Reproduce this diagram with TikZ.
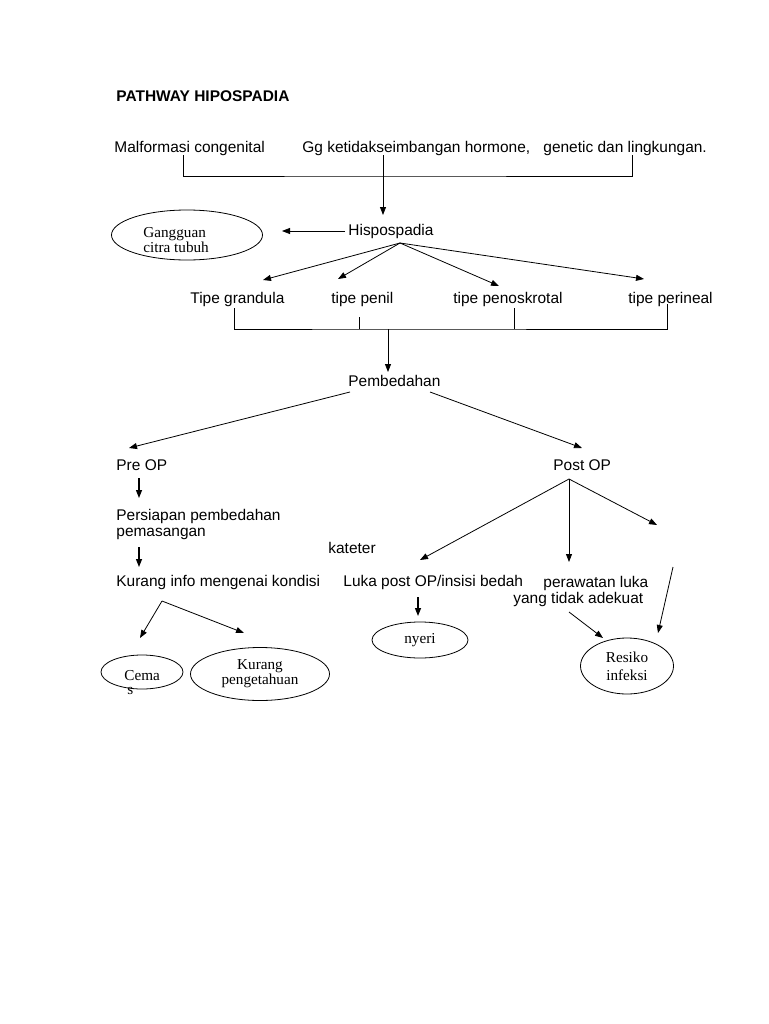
\documentclass[tikz,border=0pt]{standalone}
\usepackage{fontspec}
\setmainfont{Liberation Serif}
\setsansfont{Liberation Sans}
\usetikzlibrary{arrows.meta,shapes.geometric}
\newcommand{\txs}{\fontsize{11.6}{12}\selectfont}
\newcommand{\txr}{\fontsize{11.4}{11.2}\selectfont}

\begin{document}
\begin{tikzpicture}[x=0.75pt,y=-0.75pt,line width=0.6pt,
  lbl/.style={anchor=base west,inner sep=0pt,font=\sffamily\txs},
  slbl/.style={anchor=base west,inner sep=0pt,font=\rmfamily\txr},
  oval/.style={draw,ellipse,inner sep=0pt,align=center,font=\rmfamily\txr},
  arr/.style={-{Triangle[length=6pt,width=4.5pt]}},
  thk/.style={arr,line width=1pt}]
  \useasboundingbox (0,0) rectangle (768,1024);
  \node[lbl,font=\sffamily\bfseries\txs] (title) at (116,101) {PATHWAY HIPOSPADIA};
  \node[lbl] (malf) at (114,152) {Malformasi congenital};
  \node[lbl] (gg)   at (302,152) {Gg ketidakseimbangan hormone,};
  \node[lbl] (gen)  at (543,152) {genetic dan lingkungan.};
  \node[lbl] (hisp) at (348,235) {Hispospadia};
  \node[lbl] (tgr)  at (190,303) {Tipe grandula};
  \node[lbl] (tpe)  at (331,303) {tipe penil};
  \node[lbl] (tpk)  at (453,303) {tipe penoskrotal};
  \node[lbl] (tpr)  at (628,303) {tipe perineal};
  \node[lbl] (pemb) at (348,386) {Pembedahan};
  \node[lbl] (pre)  at (116,470) {Pre OP};
  \node[lbl] (post) at (553,470) {Post OP};
  \node[lbl] (pers) at (116,520) {Persiapan pembedahan};
  \node[lbl] (pasg) at (116,536) {pemasangan};
  \node[lbl] (kat)  at (328,553) {kateter};
  \node[lbl] (kur)  at (116,586) {Kurang info mengenai kondisi};
  \node[lbl] (luka) at (343,586) {Luka post OP/insisi bedah};
  \node[lbl] (perw) at (543,587) {perawatan luka};
  \node[lbl] (ytd)  at (513,603) {yang tidak adekuat};
  \node[oval,minimum width=113.25pt,minimum height=37.5pt] (gang) at (187,235) {};
  \node[slbl] (gang1) at (143,237) {Gangguan};
  \node[slbl] (gang2) at (143,252) {citra tubuh};
  \node[oval,minimum width=72pt,minimum height=27pt] (nyeri) at (420,640) {nyeri};
  \node[oval,minimum width=61.5pt,minimum height=25.5pt] (cemas) at (142,672) {};
  \node[slbl] (cema1) at (124,680) {Cema};
  \node[slbl] (cema2) at (127,694) {s};
  \node[oval,minimum width=104.25pt,minimum height=39.75pt] (kpeng) at (260,674) {Kurang\\pengetahuan};
  \node[oval,minimum width=69.75pt,minimum height=42pt,font=\rmfamily\fontsize{11.4}{13.2}\selectfont] (resk) at (627,666) {Resiko\\infeksi};
  \coordinate (k1) at (183,155);
  \coordinate (k2) at (383,155);
  \coordinate (k3) at (632,155);
  \coordinate (k4) at (383,176);
  \coordinate (k5) at (383,215);
  \coordinate (h1) at (345,231);
  \coordinate (h2) at (282,231);
  \coordinate (h0) at (400,243);
  \coordinate (t1) at (263,280);
  \coordinate (t2) at (338,279);
  \coordinate (t3) at (499,286);
  \coordinate (t4) at (644,279);
  \coordinate (m1) at (234,308);
  \coordinate (m2) at (359,317);
  \coordinate (m3) at (514,308);
  \coordinate (m4) at (667,304);
  \coordinate (m5) at (388,329);
  \coordinate (m6) at (388,372);
  \coordinate (p1) at (350,392);
  \coordinate (p2) at (129,448);
  \coordinate (p3) at (430,392);
  \coordinate (p4) at (582,448);
  \coordinate (a1) at (139,478);
  \coordinate (a2) at (139,498);
  \coordinate (a3) at (139,547);
  \coordinate (a4) at (139,567);
  \coordinate (c0) at (162,601);
  \coordinate (c1) at (140,638);
  \coordinate (c2) at (244,633);
  \coordinate (q0) at (569,479);
  \coordinate (q1) at (420,560);
  \coordinate (q2) at (569,562);
  \coordinate (q3) at (657,525);
  \coordinate (q4) at (673,567);
  \coordinate (q5) at (658,633);
  \coordinate (n1) at (418,597);
  \coordinate (n2) at (418,616);
  \coordinate (r1) at (569,612);
  \coordinate (r2) at (603,638);
  \draw (k1) |- (k4) -| (k3);
  \draw (k2) -- (k4);
  \draw[arr] (k4) -- (k5);
  \draw[arr] (h1) -- (h2);
  \foreach \t in {t1,t2,t3,t4}
    \draw[arr] (h0) -- (\t);
  \draw (m1) |- (m5) -| (m4);
  \draw (m2) -- (m2 |- m5);
  \draw (m3) -- (m3 |- m5);
  \draw[arr] (m5) -- (m6);
  \draw[arr] (p1) -- (p2);
  \draw[arr] (p3) -- (p4);
  \draw[thk] (a1) -- (a2);
  \draw[thk] (a3) -- (a4);
  \draw[arr] (c0) -- (c1);
  \draw[arr] (c0) -- (c2);
  \foreach \q in {q1,q2,q3}
    \draw[arr] (q0) -- (\q);
  \draw[arr] (q4) -- (q5);
  \draw[thk] (n1) -- (n2);
  \draw[arr] (r1) -- (r2);
\end{tikzpicture}
\end{document}
